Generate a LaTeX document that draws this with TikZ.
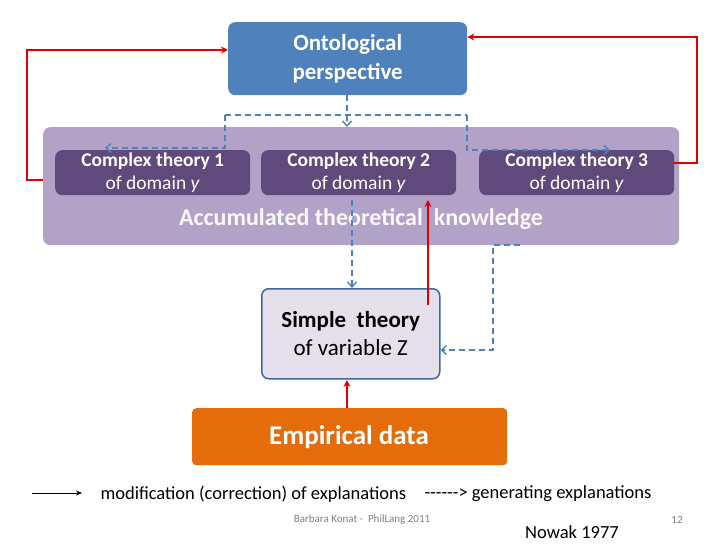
\documentclass[tikz,border=0pt]{standalone}
\usepackage{fontspec}
\setmainfont{Carlito}
\usetikzlibrary{arrows.meta}
\definecolor{ont}{HTML}{4F81BD}
\definecolor{acc}{HTML}{B3A2C7}
\definecolor{cplx}{HTML}{604A7B}
\definecolor{simp}{HTML}{E6E0EC}
\definecolor{emp}{HTML}{E46C0A}
\definecolor{red1}{HTML}{E00000}
\definecolor{dash1}{HTML}{4F81BD}
\tikzset{
 box/.style={rounded corners=7pt,inner sep=0pt,anchor=north west},
 cbox/.style={box,fill=cplx,minimum width=195pt,minimum height=45pt,text=white,font=\fontsize{19.5}{23}\selectfont,align=center},
 redarr/.style={draw=red1,line width=1.6pt,-{Stealth[length=7pt,width=7pt]}},
 dasharr/.style={draw=dash1,line width=1.4pt,dash pattern=on 6pt off 4pt,-{Straight Barb[length=5pt,width=9pt]}},
 dashln/.style={draw=dash1,line width=1.4pt,dash pattern=on 6pt off 4pt},
}
\begin{document}
\begin{tikzpicture}[x=1pt,y=-1pt]
\useasboundingbox (0,0) rectangle (728,546);
\node[box,fill=acc,minimum width=636pt,minimum height=118pt] (acc) at (43,127) {};
\node[text=white!95!gray,font=\bfseries\fontsize{24}{27}\selectfont] (acct) at (361,219) {Accumulated theoretical\ \ knowledge};
\node[box,fill=ont,minimum width=239pt,minimum height=73pt,text=white,font=\bfseries\fontsize{23}{29}\selectfont,align=center] (ont) at (228,22) {Ontological\\perspective};
\node[cbox] (c1) at (55,150) {\textbf{Complex theory 1}\\of domain \textit{y}};
\node[cbox] (c2) at (261,150) {\textbf{Complex theory 2}\\of domain \textit{y}};
\node[cbox] (c3) at (479,150) {\textbf{Complex theory 3}\\of domain \textit{y}};
\node[box,fill=simp,draw=ont!80!black,line width=1.5pt,minimum width=178pt,minimum height=90pt,font=\fontsize{23}{28}\selectfont,align=center] (s) at (261,288) {\textbf{Simple\ \ theory}\\of variable Z};
\node[box,rounded corners=4pt,fill=emp,minimum width=315pt,minimum height=57pt] (e) at (192,408) {};
\node[text=white,font=\bfseries\fontsize{27}{30}\selectfont] (et) at (349,437) {Empirical data};
% red arrows
\draw[redarr] (acc.west |- 0,180) -- (27,180) -- (27,50) -- (ont.west |- 0,50);
\draw[redarr] (c3.east |- 0,163) -- (697,163) -- (697,37) -- (ont.east |- 0,37);
\draw[redarr] (s.north -| 428,0) ++(0,17) -- (428,200);
\draw[redarr] (e.north -| 347,0) -- (347,380);
% dashed arrows
\draw[dashln] (ont.south -| 347,0) -- (347,115);
\draw[dasharr] (347,115) -- (347,127);
\draw[dashln] (225,115) -- (467,115);
\draw[dasharr] (225,115) -- (225,148) -- (105,148);
\draw[dasharr] (467,115) -- (467,150) -- (610,150);
\draw[dasharr] (352,200) -- (s.north -| 352,0);
\draw[dasharr] (520,245) -- (493,245) -- (493,350) -- (s.east |- 0,350);
% legend
\coordinate (l1) at (32,493);
\coordinate (l2) at (82,493);
\draw[-{Stealth[length=6pt,width=5pt]},line width=0.8pt] (l1) -- (l2);
\node[anchor=west,font=\fontsize{18.5}{22}\selectfont] (lt1) at (97,494) {modification (correction) of explanations};
\node[anchor=west,font=\fontsize{18.5}{22}\selectfont] (lt2) at (421,494) {-{}-{}-{}-{}-{}->\ generating explanations};
\node[font=\fontsize{11}{13}\selectfont,text=gray] (f1) at (362,520) {Barbara Konat -\ \ PhilLang 2011};
\node[font=\fontsize{11}{13}\selectfont,text=gray] (f2) at (677,520) {12};
\node[font=\fontsize{18.5}{22}\selectfont] (f3) at (572,532) {Nowak 1977};
\end{tikzpicture}
\end{document}
